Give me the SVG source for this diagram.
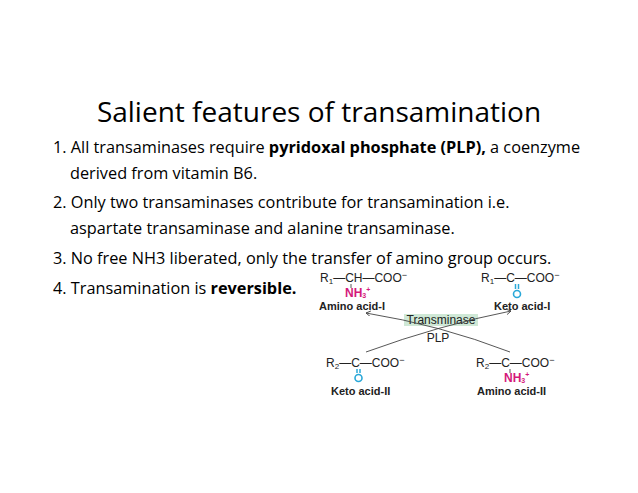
<svg xmlns="http://www.w3.org/2000/svg" width="638" height="493" viewBox="0 0 638 493">
<style>
.t{font-family:"Open Sans","Liberation Sans",sans-serif;font-size:16.3px;fill:#000}
.c{font-family:"Liberation Sans",Arial,sans-serif;font-size:12px;fill:#222}
.b{font-family:"Liberation Sans",Arial,sans-serif;font-size:11px;font-weight:bold;fill:#222}
.m{fill:#d4197a}.o{fill:none;stroke:#2aa8d8;stroke-width:1.6}
.l{stroke:#444;stroke-width:0.9;fill:none}
</style>
<defs><marker id="a" markerWidth="7" markerHeight="7" refX="5" refY="3" orient="auto"><path d="M0,0 L5,3 L0,6" fill="none" stroke="#444" stroke-width="1"/></marker></defs>
<rect width="638" height="493" fill="#fff"/>
<text x="319" y="122" text-anchor="middle" font-family="Open Sans,Liberation Sans,sans-serif" font-size="28">Salient features of transamination</text>
<g id="text">
<text class="t" x="53" y="153">1. All transaminases require <tspan font-weight="bold">pyridoxal phosphate (PLP),</tspan> a coenzyme</text>
<text class="t" x="70" y="179">derived from vitamin B6.</text>
<text class="t" x="53" y="208">2. Only two transaminases contribute for transamination i.e.</text>
<text class="t" x="70" y="234">aspartate transaminase and alanine transaminase.</text>
<text class="t" x="53" y="264">3. No free NH3 liberated, only the transfer of amino group occurs.</text>
<text class="t" x="53" y="294">4. Transamination is <tspan font-weight="bold">reversible.</tspan></text>
</g>
<g id="amino1"><text class="c" x="320" y="282">R<tspan font-size="8" dy="2">1</tspan><tspan dy="-2">—CH—COO</tspan><tspan font-size="9" dy="-4">−</tspan></text>
<line class="l" x1="351" y1="284" x2="351" y2="288"/>
<text class="c m" x="345" y="297" font-weight="bold">NH<tspan font-size="7" dy="1">3</tspan><tspan font-size="7" dy="-6">+</tspan></text>
<text class="b" x="319" y="310">Amino acid-I</text></g>
<g id="keto1"><text class="c" x="481" y="282">R<tspan font-size="8" dy="2">1</tspan><tspan dy="-2">—C—COO</tspan><tspan font-size="9" dy="-4">−</tspan></text>
<line x1="515.5" y1="284" x2="515.5" y2="289" stroke="#2aa8d8" stroke-width="1.5"/><line x1="518.5" y1="284" x2="518.5" y2="289" stroke="#2aa8d8" stroke-width="1.5"/>
<circle class="o" cx="517" cy="294" r="3.5"/>
<text class="b" x="494" y="310">Keto acid-I</text></g>
<g id="keto2"><text class="c" x="326" y="367">R<tspan font-size="8" dy="2">2</tspan><tspan dy="-2">—C—COO</tspan><tspan font-size="9" dy="-4">−</tspan></text>
<line x1="357" y1="369" x2="357" y2="373" stroke="#2aa8d8" stroke-width="1.5"/><line x1="360" y1="369" x2="360" y2="373" stroke="#2aa8d8" stroke-width="1.5"/>
<circle class="o" cx="358.5" cy="378" r="3.5"/>
<text class="b" x="331" y="395">Keto acid-II</text></g>
<g id="amino2"><text class="c" x="476" y="367">R<tspan font-size="8" dy="2">2</tspan><tspan dy="-2">—C—COO</tspan><tspan font-size="9" dy="-4">−</tspan></text>
<line class="l" x1="510" y1="369" x2="510" y2="373"/>
<text class="c m" x="504" y="382" font-weight="bold">NH<tspan font-size="7" dy="1">3</tspan><tspan font-size="7" dy="-6">+</tspan></text>
<text class="b" x="477" y="395">Amino acid-II</text></g>
<g id="enzyme"><rect x="404" y="314" width="74" height="12" fill="#cfe8d6"/>
<text class="c" x="441" y="323.5" text-anchor="middle" font-size="10.5">Transminase</text>
<text class="c" x="438" y="342" text-anchor="middle" font-size="10.5">PLP</text></g>
<g id="connectors">
<path class="l" d="M510,352 Q440,325 366,313" marker-end="url(#a)"/>
<path class="l" d="M366,352 Q440,325 511,311" marker-end="url(#a)"/>
</g>
</svg>
